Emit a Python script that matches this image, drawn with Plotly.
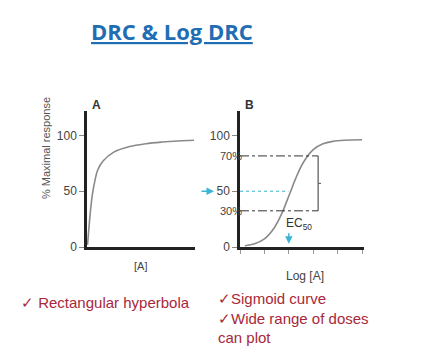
import plotly.graph_objects as go

W, H = 425, 364

# ---- data ----
# Panel A: rectangular hyperbola (dose vs % maximal response)
a_dose = [0.05, 0.3, 0.5, 0.75, 1.0, 1.5, 2.5, 4.0, 5.5, 7.0, 8.5, 10.0]
a_resp = [2, 30, 47, 60, 69, 77, 85, 90, 92.5, 94, 95, 95.6]
# Panel B: sigmoid (log dose vs % maximal response)
b_logdose = [0.2, 0.6, 1.0, 1.4, 1.7, 2.0, 2.3, 2.6, 3.0, 3.4, 3.8, 4.3, 5.0]
b_resp = [1.2, 3.0, 7.4, 17.2, 29.5, 45.7, 62.4, 75.9, 87.2, 92.4, 94.6, 95.6, 96]
y_ticks = [0, 50, 100]
y_ticktext = ["0", "50", "100"]
b_xticks = [0, 1, 2, 3, 4, 5]
band_levels = [81.6, 32.5]
band_labels = ["70%", "30%"]
band_end = 3.2
ec50 = 2.0
half = 50
notes_left = "✓ Rectangular hyperbola"
notes_right = ["✓Sigmoid curve", "✓Wide range of doses", "can plot"]

GRAY = "#8a8a8a"
CYAN = "#3db4d4"
RED = "#a8283a"
TXT = "#444444"
AX = "#222222"

def px(x):
    return x / W

def py(y):
    return 1 - y / H

fig = go.Figure()

fig.add_trace(go.Scatter(x=a_dose, y=a_resp, mode="lines", xaxis="x", yaxis="y",
                         line=dict(color=GRAY, width=1.6, shape="spline"), hoverinfo="skip"))
fig.add_trace(go.Scatter(x=b_logdose, y=b_resp, mode="lines", xaxis="x2", yaxis="y2",
                         line=dict(color=GRAY, width=1.6, shape="spline"), hoverinfo="skip"))

# dashed 70% / 30% lines
for lv in band_levels:
    fig.add_trace(go.Scatter(x=[0, band_end], y=[lv, lv], mode="lines", xaxis="x2", yaxis="y2",
                             line=dict(color="#333", width=1, dash="dashdot"), hoverinfo="skip"))
# bracket
fig.add_trace(go.Scatter(x=[band_end, band_end], y=band_levels, mode="lines", xaxis="x2", yaxis="y2",
                         line=dict(color="#333", width=1), hoverinfo="skip"))
mid = (band_levels[0] + band_levels[1]) / 2
fig.add_trace(go.Scatter(x=[band_end, band_end + 0.12], y=[mid, mid], mode="lines", xaxis="x2", yaxis="y2",
                         line=dict(color="#555", width=1), hoverinfo="skip"))
# 50% cyan dotted line
fig.add_trace(go.Scatter(x=[0, ec50 - 0.02], y=[half, half], mode="lines", xaxis="x2", yaxis="y2",
                         line=dict(color=CYAN, width=1.2, dash="dot"), hoverinfo="skip"))

x_top = 113
y_zero = 252
y_hundred = 138
ymax = (y_zero - x_top) / (y_zero - y_hundred) * 100
ydom = [py(y_zero), py(x_top)]

axis_common = dict(showgrid=False, zeroline=False, showline=True, linecolor=AX, linewidth=2.5)

fig.update_layout(
    width=W, height=H, margin=dict(l=0, r=0, t=0, b=0),
    paper_bgcolor="white", plot_bgcolor="white", showlegend=False,
    font=dict(family="Liberation Sans, Arial", color=TXT, size=11),
    xaxis=dict(domain=[px(87), px(195)], range=[0, 10.1], showticklabels=False, ticks="",
               anchor="y", **axis_common),
    yaxis=dict(domain=ydom, range=[0, ymax], tickvals=y_ticks, ticktext=y_ticktext,
               ticks="outside", ticklen=5, tickcolor="#888", tickwidth=1,
               tickfont=dict(size=12, color=TXT), anchor="x", **axis_common),
    xaxis2=dict(domain=[px(240), px(364)], range=[0, 5.08], tickvals=b_xticks, showticklabels=False,
                ticks="outside", ticklen=4, tickcolor="#999", tickwidth=1, anchor="y2", **axis_common),
    yaxis2=dict(domain=ydom, range=[0, ymax], tickvals=y_ticks, ticktext=y_ticktext,
                ticks="outside", ticklen=5, tickcolor="#888", tickwidth=1,
                tickfont=dict(size=12, color=TXT), anchor="x2", **axis_common),
)

def label(x, y, text, size, color, **kw):
    d = dict(xref="paper", yref="paper", x=px(x), y=py(y), showarrow=False, text=text,
             xanchor="center", yanchor="middle", font=dict(size=size, color=color))
    d.update(kw)
    return d

ann = []
# title
t = label(172, 32, "<b><u>DRC &amp; Log DRC</u></b>", 22, "#1f6db3")
t["font"]["family"] = "Open Sans, Noto Sans"
ann.append(t)
# panel letters
ann.append(label(96, 107, "<b>A</b>", 12, "#333"))
ann.append(label(249, 107, "<b>B</b>", 12, "#333"))
# y title
ann.append(label(46, 151, "% Maximal response", 11, "#555", textangle=-90))
# x titles
ann.append(label(140, 271, "[A]", 11, TXT))
ann.append(label(305, 281, "Log [A]", 12, TXT))
# 70% / 30% labels
for lv, lb in zip(band_levels, band_labels):
    ann.append(dict(xref="paper", yref="y2", x=px(244), y=lv, xanchor="right", yanchor="middle",
                    showarrow=False, text=lb, font=dict(size=11, color=TXT)))
# left cyan arrow at 50
ann.append(dict(xref="paper", yref="y2", x=px(214), y=half, ax=-14, ay=0, text="",
                showarrow=True, arrowhead=2, arrowsize=1, arrowwidth=1.5, arrowcolor=CYAN))
# EC50 arrow
ann.append(dict(xref="x2", yref="y2", x=ec50, y=3, ax=0, ay=-12, text="",
                showarrow=True, arrowhead=2, arrowsize=1, arrowwidth=1.5, arrowcolor=CYAN))
ann.append(dict(xref="x2", yref="y2", x=ec50 - 0.2, y=21, xanchor="left", yanchor="middle",
                showarrow=False, text="EC<sub>50</sub>", font=dict(size=12, color="#333")))
# notes
ann.append(label(19, 308, notes_left, 15, RED, xanchor="left"))
ann.append(label(216, 294, "<br>".join(notes_right), 15, RED, xanchor="left", yanchor="top",
                 align="left"))
fig.update_layout(annotations=ann)

fig.write_html("out.html")
